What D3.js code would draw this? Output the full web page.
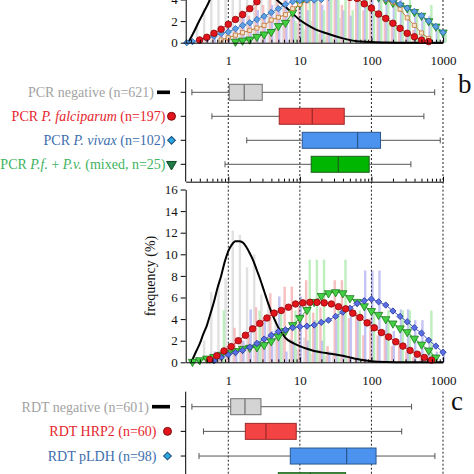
<!DOCTYPE html>
<html>
<head>
<meta charset="utf-8">
<script src="https://cdn.jsdelivr.net/npm/d3@7/dist/d3.min.js"></script>
<style>
  body { margin: 0; background: #fff; }
  svg { display: block; font-family: "Liberation Serif", "Times New Roman", serif; }
</style>
</head>
<body>
<svg id="chart" width="474" height="474"></svg>
<script>
// ---- data (x positions are log10 of parasite density) ----
const binLogs = [-0.5,-0.4,-0.3,-0.2,-0.1,0,0.1,0.2,0.3,0.4,0.5,0.6,0.7,0.8,0.9,1.0,1.1,1.2,1.3,1.4,1.5,1.6,1.7,1.8,1.9,2.0,2.1,2.2,2.3,2.4,2.5,2.6,2.7,2.8,2.9,3.0];

// top panel (only the lower part is visible)
const topHistNeg   = [0.4,1.8,3.2,5,7,8,9.5,9,8,7,6,5,4.2,3.4,2.6,1.8,1.2,2.0,0.8,0.6,0.4,2.3,0.2,0,0,0,0,0,0,0,0,0,0,0,0,0];
const topHistRed   = [0,0.5,0.8,1.0,1.5,2.0,1.5,3.0,2.5,4.5,3.5,5.5,4.0,6.0,5.0,4.5,6.0,5.0,4.0,6.5,5.0,3.5,5.0,4.5,3.0,4.0,3.0,2.5,2.0,1.5,1.0,1.2,0.5,0.3,0,0];
const topHistBlue  = [0,0,0.5,0.8,1.2,1.0,1.5,2.5,2.0,3.0,2.5,3.5,3.0,4.0,3.0,4.5,3.0,4.5,3.5,5.0,4.0,3.0,2.5,4.5,5.0,4.0,5.0,4.5,3.5,4.5,3.5,3.0,2.5,2.5,1.5,1.0];
const topHistGreen = [0,0,0,0,0,0,0,0,0,0,0,0,0,0,2.0,4.5,6,5,3,6,4.5,5,3,6,4.5,3,5,4.5,4.0,3.0,4.5,3.0,2.0,3.5,1.5,1.0];

const topNegLog = [-0.56,-0.49,-0.4,-0.33,-0.26,-0.15,0,0.15,0.3,0.45,0.55,0.68,0.82,1.0,1.19,1.37,1.6,1.84,2.2,2.5,3.0];
const topNeg    = [0,0.87,2.1,3.0,3.95,6.5,9,10,7.5,6,5,3.95,3.2,2.1,1.33,0.87,0.4,0.1,0.02,0,0];
const topRedLog = [-0.4,-0.3,-0.2,-0.1,0,0.1,0.2,0.3,0.4,0.5,0.6,0.7,0.8,0.9,1.0,1.1,1.2,1.3,1.4,1.5,1.6,1.7,1.8,1.9,2.0,2.1,2.2,2.3,2.4,2.5,2.6,2.7,2.8];
const topRed    = [0.25,0.5,0.87,1.25,1.7,2.15,2.6,3.15,3.8,4.3,4.7,5.0,5.2,5.3,5.35,5.3,5.2,5.0,4.8,4.6,4.4,4.2,4.1,3.6,3.2,2.65,2.25,1.8,1.33,0.87,0.55,0.25,0.1];
const topBlueLog = [-0.58,-0.5,-0.4,-0.3,-0.2,-0.1,0,0.1,0.2,0.3,0.4,0.5,0.6,0.7,0.8,0.9,1.0,1.1,1.2,1.3,1.4,1.5,1.6,1.7,1.8,1.9,2.0,2.1,2.2,2.3,2.4,2.5,2.6,2.7,2.8,2.9,3.0];
const topBlue    = [0,0.1,0.25,0.4,0.6,0.85,1.0,1.3,1.6,1.85,2.15,2.45,2.8,3.15,3.55,3.8,3.9,3.95,3.95,4.0,4.2,4.4,4.5,4.5,4.5,4.4,4.3,4.2,4.05,3.9,3.55,3.2,2.9,2.5,2.0,1.5,0.95];
const topOrangeLog = [-0.1,0,0.1,0.2,0.3,0.4,0.5,0.6,0.7,0.8,0.9,1.0,1.1,1.2,1.3,1.4,1.5,1.6,1.7,1.8,1.9,2.0,2.1,2.2,2.3,2.4,2.5,2.6,2.7,2.8];
const topOrange    = [0.25,0.46,0.7,0.93,1.14,1.35,1.6,2.1,2.35,2.6,3.15,3.55,3.9,4.2,4.4,4.5,4.6,4.6,4.6,4.5,4.4,4.3,4.2,4.0,3.75,3.1,2.3,1.6,0.9,0.4];
const topGreenLog = [0.1,0.2,0.3,0.4,0.5,0.6,0.7,0.8,0.9,1.0,1.1,1.2,1.3,1.4,1.5,1.6,1.7,1.8,1.9,2.0,2.1,2.2,2.3,2.4,2.5,2.6,2.7,2.8,2.9,3.0];
const topGreen    = [0.1,0.2,0.3,0.55,0.77,1.0,1.55,1.85,2.8,3.65,4.3,4.8,5.1,5.3,5.4,5.4,5.3,5.1,4.8,4.5,4.2,3.95,3.7,3.45,3.2,2.85,2.5,2.0,1.5,0.95];
const topTicks = [0, 2, 4];

// PCR box plots: [min, q1, median, q3, max]
const pcrGroups = ["negative", "falciparum", "vivax", "mixed"];
const pcrLabels = [
  [["PCR negative (n=621)", false]],
  [["PCR ", false], ["P. falciparum", true], [" (n=197)", false]],
  [["PCR ", false], ["P. vivax", true], [" (n=102)", false]],
  [["PCR ", false], ["P.f.", true], [" + ", false], ["P.v.", true], [" (mixed, n=25)", false]]
];
const pcrStats = [
  [0.31, 1.03, 1.67, 2.98, 765],
  [0.59, 5.15, 14.9, 41.7, 541],
  [1.81, 10.8, 64, 134, 915],
  [0.9, 14.4, 34.4, 93, 356]
];

// frequency by PCR result
const midHistNeg   = [0.2,0.5,2.0,6.5,7.2,7.8,12.2,11.8,8.8,10.0,6.3,5.6,4.0,3.0,2.2,1.2,2.3,0.8,1.2,0.6,1.0,0.4,0.6,0.2,0.3,0.2,0.1,0.1,0,0,0,0,0,0,0,0];
const midHistRed   = [0,0,0.5,0.5,1.0,1.5,3.2,2.0,2.5,5.1,4.1,6.4,3.0,7.0,7.0,5.1,7.6,4.6,5.1,1.5,7.6,7.6,4.1,4.6,2.5,4.1,2.5,3.0,1.5,2.0,1.0,0.5,1.0,0.5,0.5,0];
const midHistBlue  = [0,0,0,1.0,0,1.0,1.0,2.0,4.9,2.0,3.9,2.9,6.1,1.0,2.0,6.1,2.0,3.9,2.0,1.0,3.9,4.9,4.9,3.9,8.5,8.5,8.5,3.9,2.9,4.9,4.9,3.9,3.9,2.0,1.0,1.0];
const midHistGreen = [0,0,0,0,4.8,0,0,0,0,4.8,0,0,4.8,0,4.8,0,9.5,9.5,9.5,0,4.8,9.5,0,4.8,0,4.8,0,4.8,0,4.8,4.8,0,0,4.8,0,0];

const midNegLog = [-0.51,-0.45,-0.4,-0.35,-0.3,-0.25,-0.2,-0.15,-0.1,-0.05,0,0.05,0.1,0.15,0.2,0.25,0.3,0.35,0.4,0.45,0.5,0.55,0.6,0.65,0.7,0.75,0.8,0.9,1.0,1.1,1.2,1.3,1.4,1.5,1.6,1.7,1.8,1.9,2.0,2.2,2.5,3.0];
const midNeg    = [0.1,1.0,1.7,2.6,3.4,4.5,5.6,6.9,8.0,9.3,10.3,10.9,11.2,11.2,11.1,10.7,10.1,9.4,8.5,7.6,6.6,5.6,4.7,3.9,3.2,2.7,2.25,1.8,1.5,1.25,1.05,0.92,0.82,0.72,0.6,0.45,0.3,0.18,0.1,0.03,0,0];
const midRedLog = [-0.26,-0.16,-0.06,0.04,0.14,0.24,0.34,0.44,0.54,0.64,0.74,0.84,0.94,1.04,1.14,1.24,1.34,1.44,1.54,1.64,1.74,1.84,1.94,2.04,2.14,2.24,2.34,2.44,2.54,2.64,2.74,2.84];
const midRed    = [0.25,0.6,1.05,1.45,2.0,2.5,3.1,3.6,4.1,4.55,4.8,5.1,5.4,5.5,5.55,5.55,5.5,5.4,5.15,4.95,4.55,4.15,3.65,3.2,2.75,2.35,1.9,1.5,1.1,0.75,0.45,0.2];
const midBlueLog = [-0.2,-0.1,0,0.1,0.2,0.3,0.4,0.5,0.6,0.7,0.8,0.9,1.0,1.1,1.2,1.3,1.4,1.5,1.6,1.7,1.8,1.9,2.0,2.1,2.2,2.3,2.4,2.5,2.6,2.7,2.8,2.9,3.0];
const midBlue    = [0.15,0.45,0.7,0.9,1.1,1.4,1.75,2.15,2.5,2.85,3.0,3.2,3.3,3.35,3.45,3.7,3.9,4.25,4.65,5.0,5.45,5.7,5.85,5.6,5.3,4.75,4.25,3.75,3.2,2.7,2.05,1.5,0.93];
const midGreenLog = [-0.5,-0.4,-0.3,-0.2,-0.1,0,0.1,0.2,0.3,0.4,0.5,0.6,0.7,0.8,0.9,1.0,1.1,1.2,1.3,1.4,1.5,1.6,1.7,1.8,1.9,2.0,2.1,2.2,2.3,2.4,2.5,2.6,2.7,2.8,2.9];
const midGreen    = [0.05,0.2,0.35,0.5,0.7,0.85,1.05,1.25,1.35,1.4,1.6,1.95,2.4,2.9,3.45,4.1,4.85,5.6,6.15,6.4,6.5,6.4,5.95,5.6,5.2,4.75,4.4,4.0,3.6,3.15,2.8,2.2,1.65,1.1,0.45];
const midTicks = [0, 2, 4, 6, 8, 10, 12, 14, 16];

// RDT box plots (fourth row is cut off at the bottom of the picture)
const rdtGroups = ["negative", "hrp2", "pldh", "both"];
const rdtLabels = [
  [["RDT negative (n=601)", false]],
  [["RDT HRP2 (n=60)", false]],
  [["RDT pLDH (n=98)", false]],
  []
];
const rdtStats = [
  [0.31, 1.08, 1.71, 2.86, 364],
  [0.45, 1.73, 3.36, 8.9, 265],
  [0.39, 7.35, 45, 116, 771],
  [0.5, 5.0, 14, 43.6, 400]
];

const decades = [1, 10, 100, 1000];

// ---- styles ----
const groupStyle = {
  negative:   { text: "#a3a3a3", box: "#d4d4d4", edge: "#6e6e6e", mark: "dash" },
  falciparum: { text: "#e5262d", box: "#f44343", edge: "#9c2a2a", mark: "circle", mfill: "#e3141b", mstroke: "#7a0a0a" },
  vivax:      { text: "#3d6eae", box: "#4b93ee", edge: "#2a568f", mark: "diamond", mfill: "#2aa7df", mstroke: "#1b4a78" },
  mixed:      { text: "#3db35e", box: "#00b600", edge: "#1e5e1e", mark: "triangle", mfill: "#1f7a45", mstroke: "#0e4a25" },
  hrp2:       { text: "#e5262d", box: "#f44343", edge: "#9c2a2a", mark: "circle", mfill: "#e3141b", mstroke: "#7a0a0a" },
  pldh:       { text: "#3d6eae", box: "#4b93ee", edge: "#2a568f", mark: "diamond", mfill: "#2aa7df", mstroke: "#1b4a78" },
  both:       { text: "#3db35e", box: "#3c9a3c", edge: "#1e5e1e", mark: null }
};
const barColors = ["#dcdcdc", "#f6b4b4", "#b8b8f3", "#b4ebb4"];
const barOffsets = [-2.7, -0.9, 0.9, 2.7];
const barW = 2.4;

const svg = d3.select("#chart");
const x = d3.scaleLog().domain([0.254, 1000]).range([185.7, 443]);
const xl = l => x(Math.pow(10, l));

const minorTicks = [];
[0.1, 1, 10, 100].forEach(d => {
  for (let m = 2; m <= 9; m++) {
    const v = m * d;
    if (v >= 0.254 && v < 1000) minorTicks.push(v);
  }
});

const yTop = d3.scaleLinear().domain([0, 16]).range([42.7, 42.7 - 172.8]);
const yMid = d3.scaleLinear().domain([0, 16]).range([362.3, 189.5]);
const yB = d3.scalePoint().domain(pcrGroups).range([92.3, 164.3]);
const yC = d3.scalePoint().domain(rdtGroups).range([406.7, 480.7]);

function gridLines(y0, y1) {
  svg.append("g").selectAll("line").data(decades).join("line")
    .attr("x1", d => x(d)).attr("x2", d => x(d))
    .attr("y1", y0).attr("y2", y1)
    .attr("stroke", "#222").attr("stroke-width", 1)
    .attr("stroke-dasharray", "2,2");
}

function xAxis(yPos, withLabels) {
  const gMinor = svg.append("g").attr("transform", `translate(0,${yPos})`)
    .call(d3.axisBottom(x).tickValues(minorTicks).tickSize(-3).tickSizeOuter(0).tickFormat(""));
  gMinor.select(".domain").remove();
  const gMajor = svg.append("g").attr("transform", `translate(0,${yPos})`)
    .call(d3.axisBottom(x).tickValues(decades).tickSize(-5).tickSizeOuter(0)
      .tickPadding(13).tickFormat(withLabels ? d3.format("d") : ""));
  gMajor.attr("font-family", null).attr("font-size", 13);
  gMajor.selectAll("text").attr("fill", "#111");
}

function yAxis(yScale, ticks) {
  const g = svg.append("g").attr("transform", "translate(185.7,0)")
    .call(d3.axisLeft(yScale).tickValues(ticks).tickSize(5).tickSizeOuter(0).tickPadding(3));
  g.attr("font-family", null).attr("font-size", 13);
  g.selectAll("text").attr("fill", "#111");
}

function drawBars(yScale, seriesList) {
  seriesList.forEach((vals, i) => {
    const data = vals.map((v, k) => ({ l: binLogs[k], v })).filter(d => d.v > 0);
    svg.append("g").selectAll("rect").data(data).join("rect")
      .attr("x", d => xl(d.l) + barOffsets[i] - barW / 2)
      .attr("width", barW)
      .attr("y", d => yScale(d.v))
      .attr("height", d => yScale(0) - yScale(d.v))
      .attr("fill", barColors[i])
      .attr("fill-opacity", 0.85);
  });
}

function drawBlack(yScale, logs, vals) {
  const pts = logs.map((l, i) => ({ l, v: vals[i] }));
  svg.append("path").datum(pts)
    .attr("fill", "none").attr("stroke", "#000").attr("stroke-width", 2)
    .attr("d", d3.line().x(d => xl(d.l)).y(d => yScale(d.v)).curve(d3.curveMonotoneX));
}

function symbolPath(kind, size) {
  if (kind === "circle") return d3.symbol(d3.symbolCircle, size)();
  if (kind === "triangle") return d3.symbol(d3.symbolTriangle, size)();
  return d3.symbol(d3.symbolSquare, size)();
}
function symbolRotate(kind) {
  if (kind === "diamond") return 45;
  if (kind === "triangle") return 180;
  return 0;
}

function drawSeries(yScale, logs, vals, st) {
  const pts = logs.map((l, i) => ({ l, v: vals[i] }));
  svg.append("path").datum(pts)
    .attr("fill", "none").attr("stroke", st.line).attr("stroke-width", 1)
    .attr("d", d3.line().x(d => xl(d.l)).y(d => yScale(d.v)));
  svg.append("g").selectAll("path").data(pts).join("path")
    .attr("d", symbolPath(st.kind, st.size))
    .attr("transform", d => `translate(${xl(d.l)},${yScale(d.v)}) rotate(${symbolRotate(st.kind)})`)
    .attr("fill", st.fill).attr("stroke", st.stroke).attr("stroke-width", 0.8);
}

// ---- top panel ----
drawBars(yTop, [topHistNeg, topHistRed, topHistBlue, topHistGreen]);
gridLines(0, 42.7);
drawBlack(yTop, topNegLog, topNeg);
drawSeries(yTop, topGreenLog, topGreen, { kind: "triangle", size: 30, fill: "#3fcf3f", stroke: "#1a7a1a", line: "#2aa52a" });
drawSeries(yTop, topOrangeLog, topOrange, { kind: "square", size: 17, fill: "#f6e2c8", stroke: "#c27636", line: "#c27636" });
drawSeries(yTop, topBlueLog, topBlue, { kind: "diamond", size: 20, fill: "#5fa0e4", stroke: "#2c6ab2", line: "#3a7fc8" });
drawSeries(yTop, topRedLog, topRed, { kind: "circle", size: 34, fill: "#e3141b", stroke: "#8c0a0a", line: "#d01616" });
xAxis(42.7, true);
yAxis(yTop, topTicks);

// ---- box plot panels ----
function boxPanel(yScale, groups, stats, labels, top, bottom, legend) {
  gridLines(top, bottom);
  // left axis with row ticks
  svg.append("line").attr("x1", 185.7).attr("x2", 185.7).attr("y1", top).attr("y2", bottom)
    .attr("stroke", "#000");
  svg.append("g").selectAll("line").data(groups).join("line")
    .attr("x1", 180.7).attr("x2", 185.7)
    .attr("y1", d => yScale(d)).attr("y2", d => yScale(d))
    .attr("stroke", "#000");

  groups.forEach((gName, i) => {
    const s = stats[i];
    const st = groupStyle[gName];
    const cy = yScale(gName);
    const g = svg.append("g");
    g.append("line").attr("x1", x(s[0])).attr("x2", x(s[4])).attr("y1", cy).attr("y2", cy)
      .attr("stroke", "#555").attr("stroke-width", 1);
    [s[0], s[4]].forEach(v => {
      g.append("line").attr("x1", x(v)).attr("x2", x(v)).attr("y1", cy - 3).attr("y2", cy + 3)
        .attr("stroke", "#555");
    });
    g.append("rect").attr("x", x(s[1])).attr("width", x(s[3]) - x(s[1]))
      .attr("y", cy - 8).attr("height", 16)
      .attr("fill", st.box).attr("stroke", st.edge).attr("stroke-width", 1);
    g.append("line").attr("x1", x(s[2])).attr("x2", x(s[2])).attr("y1", cy - 8).attr("y2", cy + 8)
      .attr("stroke", st.edge).attr("stroke-width", 1.2);

    // legend marker + label
    let textEnd;
    if (st.mark === "dash") {
      g.append("rect").attr("x", legend.dashX0).attr("width", 170 - legend.dashX0)
        .attr("y", cy - 1.8).attr("height", 3.6).attr("fill", "#000");
      textEnd = legend.dashX0 - 3;
    } else if (st.mark) {
      const size = st.mark === "circle" ? 50 : st.mark === "diamond" ? 30 : 42;
      g.append("path").attr("d", symbolPath(st.mark, size))
        .attr("transform", `translate(${legend.symX},${cy}) rotate(${symbolRotate(st.mark)})`)
        .attr("fill", st.mfill).attr("stroke", st.mstroke).attr("stroke-width", 1);
      textEnd = legend.symX - 4 - legend.gap;
    }
    if (labels[i].length) {
      const t = g.append("text").attr("x", textEnd).attr("y", cy + 4.8)
        .attr("text-anchor", "end").attr("font-size", 14).attr("fill", st.text);
      labels[i].forEach(([str, it]) => {
        t.append("tspan").text(str).attr("font-style", it ? "italic" : null);
      });
    }
  });
}

boxPanel(yB, pcrGroups, pcrStats, pcrLabels, 78, 181.7, { dashX0: 157, symX: 171.5, gap: 2 });
xAxis(181.7, false);

// ---- middle frequency panel ----
drawBars(yMid, [midHistNeg, midHistRed, midHistBlue, midHistGreen]);
gridLines(181.7, 362.3);
drawBlack(yMid, midNegLog, midNeg);
drawSeries(yMid, midGreenLog, midGreen, { kind: "triangle", size: 30, fill: "#44d044", stroke: "#1a7a1a", line: "#2aa52a" });
drawSeries(yMid, midBlueLog, midBlue, { kind: "diamond", size: 20, fill: "#5a6fe4", stroke: "#28389c", line: "#4658c8" });
drawSeries(yMid, midRedLog, midRed, { kind: "circle", size: 34, fill: "#e3141b", stroke: "#8c0a0a", line: "#d01616" });
xAxis(362.3, true);
yAxis(yMid, midTicks);
svg.append("text")
  .attr("transform", "translate(155,276) rotate(-90)")
  .attr("text-anchor", "middle").attr("font-size", 14).attr("fill", "#111")
  .text("frequency (%)");

// ---- RDT box plot panel ----
boxPanel(yC, rdtGroups, rdtStats, rdtLabels, 391.7, 474, { dashX0: 152, symX: 167.5, gap: 7 });

// panel letters
svg.append("text").attr("x", 458).attr("y", 93).attr("font-size", 27).attr("fill", "#111").text("b");
svg.append("text").attr("x", 451).attr("y", 410).attr("font-size", 27).attr("fill", "#111").text("c");
</script>
</body>
</html>
